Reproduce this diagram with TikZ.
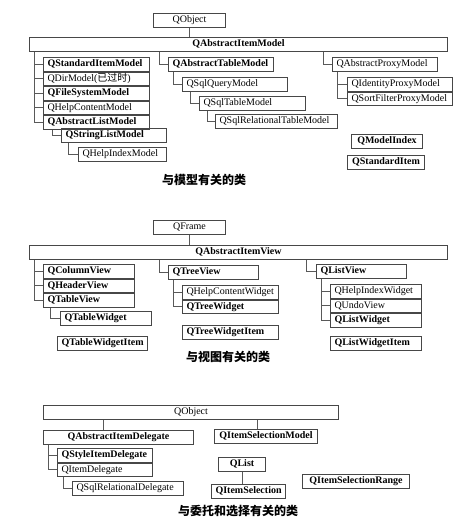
\documentclass[tikz,border=0pt]{standalone}
\usepackage{fontspec}
\setmainfont{Liberation Serif}
\newfontfamily\cjk{Noto Sans CJK SC}
\usetikzlibrary{positioning}
\definecolor{boxline}{gray}{0.28}
\definecolor{treeline}{gray}{0.35}
\tikzset{
  cls/.style={draw=boxline, line width=1pt, inner xsep=4pt, inner ysep=0pt,
    minimum height=13.5pt, text height=7pt, text depth=2pt, anchor=north west, align=left},
  wide/.style={cls, minimum width=#1, align=center},
  ab/.style={font=\bfseries},
  tree/.style={draw=treeline, line width=0.8pt},
  caption/.style={font=\cjk\bfseries\large}
}
\begin{document}
\begin{tikzpicture}[x=1pt, y=-1pt]
  \useasboundingbox (0,0) rectangle (474,531);

  % models
  \node[wide=72pt] (obj1) at (153,13) {QObject};
  \node[wide=418pt, ab] (aim) at (29,37) {QAbstractItemModel};
  \node[cls, ab, text width=98pt] (sim) at (43,57) {QStandardItemModel};
  \node[cls, text width=98pt] (dirm) at (sim.south west) {QDirModel({\cjk 已过时})};
  \node[cls, ab, text width=98pt] (fsm) at (dirm.south west) {QFileSystemModel};
  \node[cls, text width=98pt] (hcm) at (fsm.south west) {QHelpContentModel};
  \node[cls, ab, text width=98pt] (alm) at (hcm.south west) {QAbstractListModel};
  \node[cls, ab, text width=97pt] (slm) at (61,128) {QStringListModel};
  \node[cls, text width=80pt] (him) at (78,147) {QHelpIndexModel};
  \node[cls, ab, text width=97pt] (atm) at (168,57) {QAbstractTableModel};
  \node[cls, text width=97pt] (sqm) at (182,77) {QSqlQueryModel};
  \node[cls, text width=98pt] (stm) at (199,96) {QSqlTableModel};
  \node[cls, text width=114pt] (srtm) at (215,114) {QSqlRelationalTableModel};
  \node[cls, text width=97pt] (apm) at (332,57) {QAbstractProxyModel};
  \node[cls, text width=97pt] (ipm) at (347,77) {QIdentityProxyModel};
  \node[cls, text width=97pt] (sfpm) at (ipm.south west) {QSortFilterProxyModel};
  \node[wide=71pt, ab] (mi) at (351,134) {QModelIndex};
  \node[wide=77pt, ab] (si) at (347,155) {QStandardItem};
  \node[caption] (cap1) at (204,180) {与模型有关的类};

  \draw[tree] (obj1.south) -- (obj1.south |- aim.north);
  \draw[tree] (aim.south -| sim.west) ++(-9,0) |- (alm.west);
  \foreach \n in {sim,dirm,fsm,hcm}
    \draw[tree] (\n.west) -- ++(-9,0);
  \draw[tree] (alm.south -| slm.west) ++(-9,0) |- (slm.west);
  \draw[tree] (slm.south -| him.west) ++(-10,0) |- (him.west);
  \draw[tree] (aim.south -| atm.west) ++(-9,0) |- (atm.west);
  \draw[tree] (atm.south -| sqm.west) ++(-9,0) |- (sqm.west);
  \draw[tree] (sqm.south -| stm.west) ++(-9,0) |- (stm.west);
  \draw[tree] (stm.south -| srtm.west) ++(-8,0) |- (srtm.west);
  \draw[tree] (aim.south -| apm.west) ++(-9,0) |- (apm.west);
  \draw[tree] (apm.south -| ipm.west) ++(-10,0) |- (sfpm.west);
  \draw[tree] (ipm.west) -- ++(-10,0);

  % views
  \node[wide=72pt] (frame) at (153,220) {QFrame};
  \node[wide=418pt, ab] (aiv) at (29,245) {QAbstractItemView};
  \node[cls, ab, text width=83pt] (cv) at (43,264) {QColumnView};
  \node[cls, ab, text width=83pt] (hv) at (cv.south west) {QHeaderView};
  \node[cls, ab, text width=83pt] (tv) at (hv.south west) {QTableView};
  \node[cls, ab, text width=83pt] (tw) at (60,311) {QTableWidget};
  \node[wide=90pt, ab] (twi) at (57,336) {QTableWidgetItem};
  \node[cls, ab, text width=82pt] (trv) at (168,265) {QTreeView};
  \node[cls, text width=88pt] (hcw) at (182,285) {QHelpContentWidget};
  \node[cls, ab, text width=88pt] (trw) at (hcw.south west) {QTreeWidget};
  \node[cls, ab, text width=88pt] (trwi) at (182,325) {QTreeWidgetItem};
  \node[cls, ab, text width=82pt] (lv) at (316,264) {QListView};
  \node[cls, text width=83pt] (hiw) at (330,284) {QHelpIndexWidget};
  \node[cls, text width=83pt] (uv) at (hiw.south west) {QUndoView};
  \node[cls, ab, text width=83pt] (lw) at (uv.south west) {QListWidget};
  \node[cls, ab, text width=83pt] (lwi) at (330,336) {QListWidgetItem};
  \node[caption] (cap2) at (228,357) {与视图有关的类};

  \draw[tree] (frame.south) -- (frame.south |- aiv.north);
  \draw[tree] (aiv.south -| cv.west) ++(-9,0) |- (tv.west);
  \foreach \n in {cv,hv}
    \draw[tree] (\n.west) -- ++(-9,0);
  \draw[tree] (tv.south -| tw.west) ++(-10,0) |- (tw.west);
  \draw[tree] (aiv.south -| trv.west) ++(-9,0) |- (trv.west);
  \draw[tree] (trv.south -| hcw.west) ++(-9,0) |- (trw.west);
  \draw[tree] (hcw.west) -- ++(-9,0);
  \draw[tree] (aiv.south -| lv.west) ++(-10,0) |- (lv.west);
  \draw[tree] (lv.south -| hiw.west) ++(-9,0) |- (lw.west);
  \foreach \n in {hiw,uv}
    \draw[tree] (\n.west) -- ++(-9,0);

  % delegates and selection
  \node[wide=295pt] (obj3) at (43,405) {QObject};
  \node[wide=150pt, ab] (aid) at (43,430) {QAbstractItemDelegate};
  \node[cls, ab, text width=87pt] (sid) at (57,448) {QStyleItemDelegate};
  \node[cls, text width=87pt] (idl) at (sid.south west) {QItemDelegate};
  \node[cls, text width=103pt] (srd) at (72,481) {QSqlRelationalDelegate};
  \node[wide=103pt, ab] (ism) at (214,429) {QItemSelectionModel};
  \node[wide=47pt, ab] (ql) at (218,457) {QList};
  \node[wide=74pt, ab] (isl) at (211,484) {QItemSelection};
  \node[wide=107pt, ab] (isr) at (302,474) {QItemSelectionRange};
  \node[caption] (cap3) at (238,511) {与委托和选择有关的类};

  \coordinate (d3) at ([xshift=60pt]aid.north west);
  \coordinate (s3) at ([xshift=43pt]ism.north west);
  \draw[tree] (d3 |- obj3.south) -- (d3);
  \draw[tree] (s3 |- obj3.south) -- (s3);
  \draw[tree] (aid.south -| sid.west) ++(-9,0) |- (idl.west);
  \draw[tree] (sid.west) -- ++(-9,0);
  \draw[tree] (idl.south -| srd.west) ++(-9,0) |- (srd.west);
  \draw[tree] (ql.south) -- (ql.south |- isl.north);
\end{tikzpicture}
\end{document}
